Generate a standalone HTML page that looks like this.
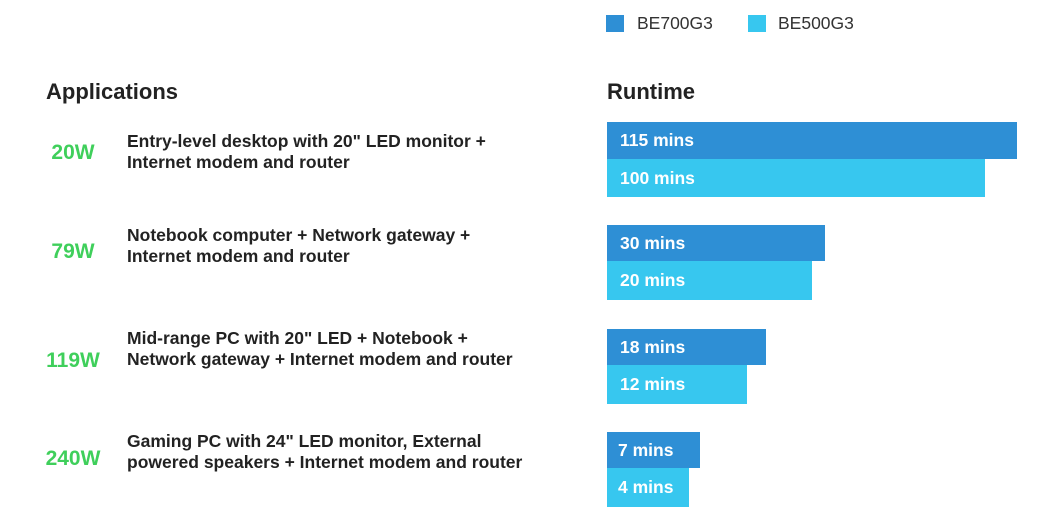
<!DOCTYPE html>
<html><head><style>
body{margin:0;width:1048px;height:527px;background:#fff;position:relative;font-family:"Liberation Sans",sans-serif;overflow:hidden}
.a{position:absolute}
.h{font-size:22px;font-weight:bold;color:#222}
.w{font-size:21px;font-weight:bold;color:#3fcf5b;width:110px;text-align:center;left:18px}
.t{font-size:17.5px;font-weight:bold;color:#222;left:127px;line-height:21px}
.b{left:607px;color:#fff;font-weight:bold;font-size:17.5px;padding-left:13px;box-sizing:border-box;display:flex;align-items:center}
.d{background:#2e8fd5}.l{background:#37c7ef}
</style></head><body>
<div class="a d" style="left:606px;top:15px;width:18px;height:17px"></div>
<div class="a" style="left:637px;top:13px;font-size:17.5px;color:#333">BE700G3</div>
<div class="a l" style="left:748px;top:15px;width:18px;height:17px"></div>
<div class="a" style="left:778px;top:13px;font-size:17.5px;color:#333">BE500G3</div>
<div class="a h" style="left:46px;top:79px">Applications</div>
<div class="a h" style="left:607px;top:79px">Runtime</div>

<div class="a w" style="top:141px">20W</div>
<div class="a t" style="top:131px">Entry-level desktop with 20" LED monitor +<br>Internet modem and router</div>
<div class="a b d" style="top:122px;width:410px;height:37px">115 mins</div>
<div class="a b l" style="top:159px;width:378px;height:38px">100 mins</div>

<div class="a w" style="top:240px">79W</div>
<div class="a t" style="top:225px">Notebook computer + Network gateway +<br>Internet modem and router</div>
<div class="a b d" style="top:225px;width:218px;height:36px">30 mins</div>
<div class="a b l" style="top:261px;width:205px;height:39px">20 mins</div>

<div class="a w" style="top:349px">119W</div>
<div class="a t" style="top:328px">Mid-range PC with 20" LED + Notebook +<br>Network gateway + Internet modem and router</div>
<div class="a b d" style="top:329px;width:159px;height:36px">18 mins</div>
<div class="a b l" style="top:365px;width:140px;height:39px">12 mins</div>

<div class="a w" style="top:447px">240W</div>
<div class="a t" style="top:431px">Gaming PC with 24" LED monitor, External<br>powered speakers + Internet modem and router</div>
<div class="a b d" style="top:432px;width:93px;height:36px;padding-left:11px">7 mins</div>
<div class="a b l" style="top:468px;width:82px;height:39px;padding-left:11px">4 mins</div>
</body></html>
